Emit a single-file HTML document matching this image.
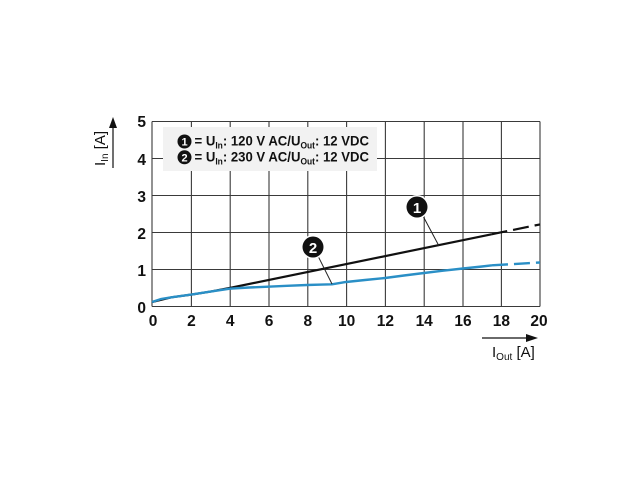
<!DOCTYPE html>
<html><head><meta charset="utf-8"><style>
html,body{margin:0;padding:0;background:#fff;}
svg{display:block;}
text{font-family:"Liberation Sans",Arial,sans-serif;}
</style></head><body>
<svg width="640" height="480" viewBox="0 0 640 480" xmlns="http://www.w3.org/2000/svg">
<rect width="640" height="480" fill="#fff"/>
<!-- grid -->
<g stroke="#3a3a3a" stroke-width="1.1" fill="none">
<line x1="152" y1="121.5" x2="152" y2="306.5"/>
<line x1="191.4" y1="121.5" x2="191.4" y2="306.5"/>
<line x1="230.2" y1="121.5" x2="230.2" y2="306.5"/>
<line x1="269" y1="121.5" x2="269" y2="306.5"/>
<line x1="307.8" y1="121.5" x2="307.8" y2="306.5"/>
<line x1="346.6" y1="121.5" x2="346.6" y2="306.5"/>
<line x1="385.4" y1="121.5" x2="385.4" y2="306.5"/>
<line x1="424.2" y1="121.5" x2="424.2" y2="306.5"/>
<line x1="463" y1="121.5" x2="463" y2="306.5"/>
<line x1="501.4" y1="121.5" x2="501.4" y2="306.5"/>
<line x1="540" y1="121.5" x2="540" y2="306.5"/>
<line x1="152" y1="121.5" x2="540" y2="121.5"/>
<line x1="152" y1="158.5" x2="540" y2="158.5"/>
<line x1="152" y1="195.5" x2="540" y2="195.5"/>
<line x1="152" y1="232.5" x2="540" y2="232.5"/>
<line x1="152" y1="269.5" x2="540" y2="269.5"/>
<line x1="152" y1="306.5" x2="540" y2="306.5"/>
</g>
<!-- legend box -->
<rect x="163" y="127" width="214" height="44" fill="#f2f2f2"/>
<g>
<circle cx="184.5" cy="141.5" r="7" fill="#111"/>
<text x="184.5" y="145.5" font-size="11" font-weight="bold" fill="#fff" text-anchor="middle">1</text>
<circle cx="184.5" cy="157.3" r="7" fill="#111"/>
<text x="184.5" y="161.3" font-size="11" font-weight="bold" fill="#fff" text-anchor="middle">2</text>
<text x="194.5" y="145.5" font-size="14" font-weight="bold" fill="#111" textLength="174.5" lengthAdjust="spacingAndGlyphs">= U<tspan font-size="9" dy="3">In</tspan><tspan dy="-3">: 120 V AC/U</tspan><tspan font-size="9" dy="3">Out</tspan><tspan dy="-3">: 12 VDC</tspan></text>
<text x="194.5" y="161.5" font-size="14" font-weight="bold" fill="#111" textLength="174.5" lengthAdjust="spacingAndGlyphs">= U<tspan font-size="9" dy="3">In</tspan><tspan dy="-3">: 230 V AC/U</tspan><tspan font-size="9" dy="3">Out</tspan><tspan dy="-3">: 12 VDC</tspan></text>
</g>
<!-- curves -->
<polyline fill="none" stroke="#111" stroke-width="2.2" points="152,302 171.4,297.3 191.2,294.6 210.6,291.6 229.6,288 491.5,234.3"/>
<line x1="491.5" y1="234.3" x2="540" y2="224.4" stroke="#111" stroke-width="2.2" stroke-dasharray="16,6"/>
<polyline fill="none" stroke="#2a8fc6" stroke-width="2.4" points="152,302 161,299 171.4,297.3 191.2,294.6 210.6,291.6 229.8,288.7 249,287.5 268,286.7 287,285.8 307,285 322,284.6 332,284.3 346,282 365,280 385,278 404,275.5 424,273 443,270.7 463,268.5 482,266.5 492,265.3"/>
<line x1="492" y1="265.3" x2="540" y2="262.5" stroke="#2a8fc6" stroke-width="2.4" stroke-dasharray="16,6"/>
<!-- leaders -->
<line x1="423" y1="216" x2="439" y2="246" stroke="#222" stroke-width="1"/>
<line x1="318" y1="256" x2="332" y2="284" stroke="#222" stroke-width="1"/>
<circle cx="417" cy="207" r="12" fill="#fff"/>
<circle cx="417" cy="207" r="10.5" fill="#111"/>
<text x="417" y="213" font-size="15" font-weight="bold" fill="#fff" text-anchor="middle">1</text>
<circle cx="313" cy="247" r="12" fill="#fff"/>
<circle cx="313" cy="247" r="10.5" fill="#111"/>
<text x="313" y="253" font-size="15" font-weight="bold" fill="#fff" text-anchor="middle">2</text>
<!-- y tick labels -->
<g font-size="15.5" font-weight="bold" fill="#111" text-anchor="end">
<text x="146" y="313">0</text>
<text x="146" y="276">1</text>
<text x="146" y="239">2</text>
<text x="146" y="202">3</text>
<text x="146" y="165">4</text>
<text x="146" y="127">5</text>
</g>
<!-- x tick labels -->
<g font-size="15.5" font-weight="bold" fill="#111" text-anchor="middle">
<text x="153" y="326">0</text>
<text x="191.4" y="326">2</text>
<text x="230.2" y="326">4</text>
<text x="269" y="326">6</text>
<text x="307.8" y="326">8</text>
<text x="346.6" y="326">10</text>
<text x="385.4" y="326">12</text>
<text x="424.2" y="326">14</text>
<text x="463" y="326">16</text>
<text x="501.4" y="326">18</text>
<text x="539" y="326">20</text>
</g>
<!-- y axis label + arrow -->
<line x1="113" y1="168" x2="113" y2="126" stroke="#111" stroke-width="1.2"/>
<polygon points="113,117 109,128 117,128" fill="#111"/>
<text transform="translate(105,166) rotate(-90)" font-size="15" fill="#111">I<tspan font-size="10" dy="3">In</tspan><tspan dy="-3"> [A]</tspan></text>
<!-- x axis label + arrow -->
<line x1="482" y1="338" x2="528" y2="338" stroke="#111" stroke-width="1.2"/>
<polygon points="538,338 526,334 526,342" fill="#111"/>
<text x="492" y="357" font-size="15" fill="#111">I<tspan font-size="10" dy="3">Out</tspan><tspan dy="-3"> [A]</tspan></text>
</svg>
</body></html>
